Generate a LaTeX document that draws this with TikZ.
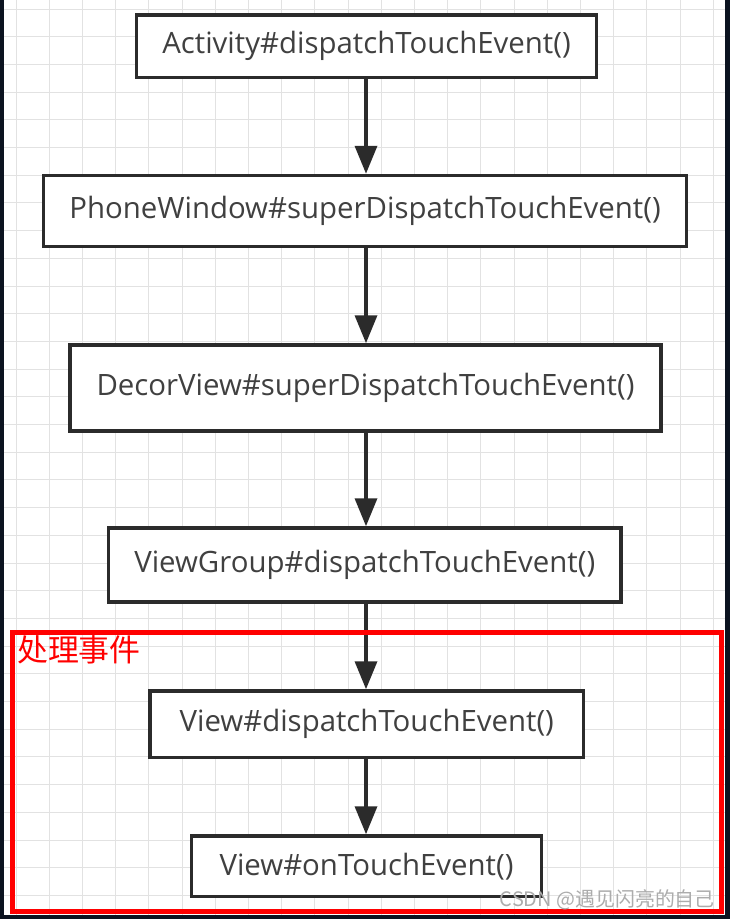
\documentclass[tikz,border=0pt]{standalone}
\usepackage{fontspec}
\setmainfont{Open Sans}
\newfontfamily\cjk{Noto Sans CJK SC}
\usetikzlibrary{arrows.meta}
\definecolor{edgec}{HTML}{2B2B2B}
\definecolor{labelc}{HTML}{404040}
\definecolor{gridc}{HTML}{E2E2E2}
\definecolor{framec}{HTML}{0B1320}
\begin{document}
\begin{tikzpicture}[x=1bp,y=-1bp,
  box/.style={draw=edgec, line width=3.5bp, fill=white, inner sep=0pt,
    text=labelc, font=\fontsize{29.5}{33}\selectfont},
  flow/.style={draw=edgec, line width=3.5bp, -{Triangle[length=28bp,width=22bp]}},
  gridline/.style={draw=gridc, line width=1bp}]
\useasboundingbox (0,0) rectangle (730,919);
\fill[white] (0,0) rectangle (730,919);
\foreach \i in {0,...,21} \draw[gridline] ({16+33.2*\i},0) -- ({16+33.2*\i},919);
\foreach \j in {0,...,32} \draw[gridline] (0,{9+27.7*\j}) -- (730,{9+27.7*\j});

\node[box, minimum width=460bp, minimum height=62.5bp] (b1) at (366.5,46.25) {Activity\#dispatchTouchEvent()};
\node[box, minimum width=643bp, minimum height=71bp] (b2) at (365,211) {PhoneWindow\#superDispatchTouchEvent()};
\node[box, minimum width=591bp, minimum height=86bp] (b3) at (365.5,388) {DecorView\#superDispatchTouchEvent()};
\node[box, minimum width=512.5bp, minimum height=74bp] (b4) at (364.75,565) {ViewGroup\#dispatchTouchEvent()};
\node[box, minimum width=433.5bp, minimum height=66.5bp] (b5) at (366.75,724.25) {View\#dispatchTouchEvent()};
\node[box, minimum width=350bp, minimum height=60.5bp] (b6) at (366.5,866.25) {View\#onTouchEvent()};

\coordinate (a1) at (366,0);
\draw[flow] (a1 |- b1.south) -- (a1 |- b2.north);
\draw[flow] (a1 |- b2.south) -- (a1 |- b3.north);
\draw[flow] (a1 |- b3.south) -- (a1 |- b4.north);
\draw[flow] (a1 |- b4.south) -- (a1 |- b5.north);
\draw[flow] (a1 |- b5.south) -- (a1 |- b6.north);

\draw[red, line width=5bp] (12.5,632) rectangle (721,911.5);
\node[anchor=west, inner sep=0pt, text=red, font=\cjk\fontsize{31}{35}\selectfont] (lbl) at (17,650) {处理事件};

\node[anchor=east, inner sep=0pt, text=gray!65, font=\cjk\fontsize{20}{24}\selectfont] (csdn) at (715,900) {CSDN @遇见闪亮的自己};

\fill[framec] (0,0) rectangle (4,919);
\fill[framec] (725,0) rectangle (730,919);
\fill[framec] (0,915) rectangle (730,919);
\end{tikzpicture}
\end{document}
